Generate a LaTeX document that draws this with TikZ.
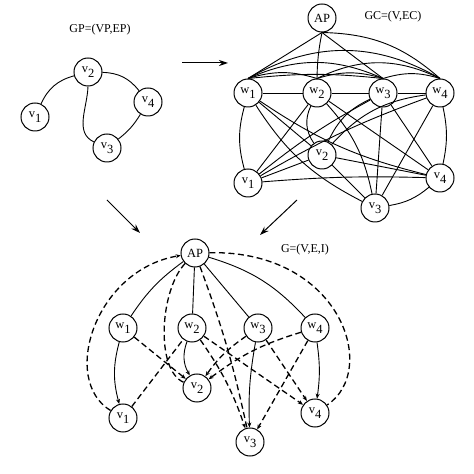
\documentclass[tikz,border=0pt]{standalone}
\usepackage{fontspec}
\setmainfont{Liberation Serif}
\usetikzlibrary{arrows.meta}
\newcommand{\lbl}[2]{#1\raisebox{-4.5pt}{#2}}
\begin{document}
\begin{tikzpicture}[x=1pt,y=1pt,
  vert/.style={circle,draw,line width=1pt,minimum size=28pt,inner sep=0pt,font=\fontsize{12.5}{12.5}\selectfont},
  edge/.style={line width=0.9pt},
  dedge/.style={line width=1.3pt,dash pattern=on 6pt off 3.5pt},
  tip/.style={-{Stealth[length=5pt,width=4pt]}},
  bigarrow/.style={line width=1pt,-{Stealth[length=9pt,width=6pt]}},
  title/.style={font=\fontsize{12}{12}\selectfont}]
\useasboundingbox[fill=white] (0,0) rectangle (474,474);

% ---------- GP ----------
\node[title] (tp) at (100,444) {GP=(VP,EP)};
\node[vert] (p2) at (88,402) {\lbl{v}{2}};
\node[vert] (p1) at (35,357) {\lbl{v}{1}};
\node[vert] (p4) at (148,372) {\lbl{v}{4}};
\node[vert] (p3) at (107,326) {\lbl{v}{3}};
\draw[edge] (p2) to[bend right=25] (p1);
\draw[edge] (p2) to[bend left=25] (p4);
\draw[edge] (p2.south) to[out=-92,in=155] (p3);
\draw[edge] (p3) to[bend right=10] (p4);

% ---------- arrows ----------
\coordinate (a1s) at (182,411); \coordinate (a1e) at (228,411);
\coordinate (a2s) at (297,274); \coordinate (a2e) at (260,239);
\coordinate (a3s) at (107,274); \coordinate (a3e) at (140,241);
\draw[bigarrow] (a1s) -- (a1e);
\draw[bigarrow] (a2s) -- (a2e);
\draw[bigarrow] (a3s) -- (a3e);

% ---------- GC ----------
\node[title] (tc) at (393,457) {GC=(V,EC)};
\node[vert] (cap) at (322,456) {AP};
\node[vert] (cw1) at (248,381) {\lbl{w}{1}};
\node[vert] (cw2) at (317,381) {\lbl{w}{2}};
\node[vert] (cw3) at (383,381) {\lbl{w}{3}};
\node[vert] (cw4) at (440,381) {\lbl{w}{4}};
\node[vert] (cv2) at (322,319) {\lbl{v}{2}};
\node[vert] (cv1) at (248,291) {\lbl{v}{1}};
\node[vert] (cv4) at (440,296) {\lbl{v}{4}};
\node[vert] (cv3) at (375,266) {\lbl{v}{3}};
% top
\draw[edge] (cap.south) -- (cw1.north);
\draw[edge] (cap.south) to[bend right=5] (cw2.north);
\draw[edge] (cap.south) -- (cw3.north);
\draw[edge] (cap.south) to[bend left=20] (cw4.north);
\draw[edge] (cw1) -- (cw2);
\draw[edge] (cw2) -- (cw3);
\draw[edge] (cw3) -- (cw4);
\draw[edge] (cw1.north) to[bend left=30] (cw4.north);
\draw[edge] (cw1.north) to[bend left=24] (cw3.north);
\draw[edge] (cw2.north) to[bend left=26] (cw4.north);
\draw[edge] (cw1.north) to[bend left=17] (cw2.north);
\draw[edge] (cw2.north) to[bend left=17] (cw3.north);
\draw[edge] (cw3.north) to[bend left=17] (cw4.north);
\draw[edge] (cw1.north) to[bend left=6] (cw3.north);
% w-v
\draw[edge] (cw1) to[bend right=15] (cv1);
\draw[edge] (cw1) -- (cv2);
\draw[edge] (cw1) to[bend right=15] (cv3);
\draw[edge] (cw1) to[bend right=10] (cv4);
\draw[edge] (cw2) -- (cv1);
\draw[edge] (cw2) to[bend right=30] (cv2);
\draw[edge] (cw2) to[bend left=15] (cv3);
\draw[edge] (cw2) -- (cv4);
\draw[edge] (cw3) to[bend right=5] (cv1);
\draw[edge] (cw3) to[bend right=20] (cv2);
\draw[edge] (cw3) -- (cv3);
\draw[edge] (cw3) -- (cv4);
\draw[edge] (cw4) to[bend right=5] (cv1);
\draw[edge] (cw4) to[bend right=20] (cv2);
\draw[edge] (cw4) -- (cv3);
\draw[edge] (cw4) to[bend left=12] (cv4);
% v-v
\draw[edge] (cv1) -- (cv2);
\draw[edge] (cv2) -- (cv4);
\draw[edge] (cv1) to[bend left=3] (cv4);
\draw[edge] (cv2) -- (cv3);
\draw[edge] (cv3) to[bend right=15] (cv4);

% ---------- G ----------
\node[title] (tg) at (305,224) {G=(V,E,I)};
\node[vert] (gap) at (195,221) {AP};
\node[vert] (gw1) at (123,146) {\lbl{w}{1}};
\node[vert] (gw2) at (192,146) {\lbl{w}{2}};
\node[vert] (gw3) at (258,146) {\lbl{w}{3}};
\node[vert] (gw4) at (315,146) {\lbl{w}{4}};
\node[vert] (gv2) at (197,86) {\lbl{v}{2}};
\node[vert] (gv1) at (123,56) {\lbl{v}{1}};
\node[vert] (gv4) at (315,61) {\lbl{v}{4}};
\node[vert] (gv3) at (250,32) {\lbl{v}{3}};
% solid
\draw[edge] (gap) to[bend right=10] (gw1);
\draw[edge] (gap) -- (gw2);
\draw[edge] (gap) -- (gw3);
\draw[edge] (gap) to[bend left=15] (gw4);
\draw[edge,tip] (gw1) to[bend right=15] (gv1);
\draw[edge,tip] (gw2) to[bend right=25] (gv2);
\draw[edge,tip] (gw3) to[bend right=6] (gv3);
\draw[edge,tip] (gw4) to[bend left=8] (gv4);
% dashed
\draw[dedge,tip] (gv1) .. controls (60,94) and (95,204) .. (gap);
\draw[dedge] (gap) .. controls (160,184) and (155,104) .. (gv2);
\draw[dedge] (gap) to[bend left=4] (gv3);
\draw[dedge] (gap) .. controls (340,224) and (380,104) .. (gv4);
\draw[dedge,tip] (gw1) -- (gv2);
\draw[dedge] (gv1) -- (gw2);
\draw[dedge,tip] (gw2) to[bend left=8] (gv3);
\draw[dedge,tip] (gw2) -- (gv4);
\draw[dedge,tip] (gw3) to[bend right=10] (gv2);
\draw[dedge,tip] (gw3) -- (gv4);
\draw[dedge,tip] (gw4) to[bend right=10] (gv2);
\draw[dedge,tip] (gw4) -- (gv3);
\end{tikzpicture}
\end{document}
